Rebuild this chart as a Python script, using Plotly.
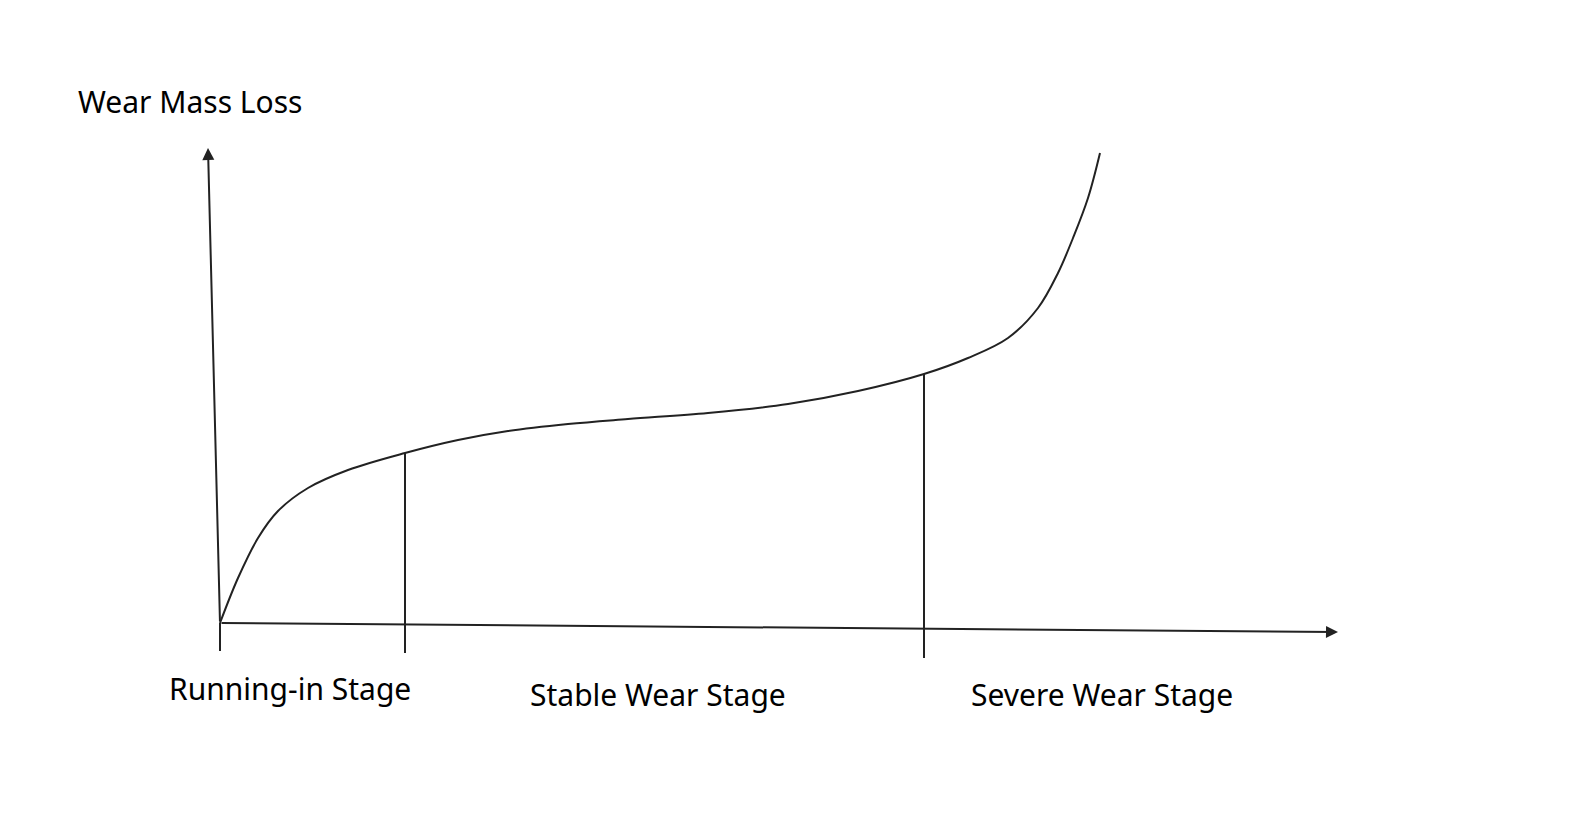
import plotly.graph_objects as go

# schematic data (time units, wear units)
time = [0, 1.8, 3.8, 5.8, 8.8, 12.8, 18.5, 23.8, 28.8, 34.8, 40.8, 48.8, 56.8, 63.8, 70.4, 74.8, 78.8, 81.8, 83.8, 85.3, 86.8, 88.0]
wear = [0, 4.5, 8.5, 11.2, 13.5, 15.3, 17.0, 18.3, 19.2, 19.9, 20.4, 21.0, 21.9, 23.2, 24.9, 26.5, 28.5, 31.5, 35.0, 38.5, 42.5, 47.0]
stage_bounds = [18.5, 70.4]
stage_tops = [17.0, 24.9]
stage_labels = ["Running-in Stage", "Stable Wear Stage", "Severe Wear Stage"]
stage_label_x = [7.0, 43.8, 88.2]
stage_label_y = [-6.5, -7.1, -7.1]

C = "#222"
fig = go.Figure()
fig.add_trace(go.Scatter(x=time, y=wear, mode="lines", line=dict(color=C, width=2, shape="spline"), hoverinfo="skip"))

# axes
fig.add_annotation(x=111.8, y=-0.9, ax=0, ay=0, xref="x", yref="y", axref="x", ayref="y",
                   showarrow=True, arrowhead=2, arrowsize=1.2, arrowwidth=2, arrowcolor=C, text="")
fig.add_annotation(x=-1.2, y=47.5, ax=0, ay=0, xref="x", yref="y", axref="x", ayref="y",
                   showarrow=True, arrowhead=2, arrowsize=1.2, arrowwidth=2, arrowcolor=C, text="")
fig.add_shape(type="line", x0=0, y0=0, x1=0, y1=-2.8, line=dict(color=C, width=2))
for xb, yt, yb in zip(stage_bounds, stage_tops, [-3.0, -3.5]):
    fig.add_shape(type="line", x0=xb, y0=yt, x1=xb, y1=yb, line=dict(color=C, width=2))

for t, x, y in zip(stage_labels, stage_label_x, stage_label_y):
    fig.add_annotation(x=x, y=y, text=t, showarrow=False, xref="x", yref="y",
                       font=dict(family="Noto Sans", size=30, color="#000"))
fig.add_annotation(x=-3.0, y=52.2, text="Wear Mass Loss", showarrow=False, xref="x", yref="y",
                   font=dict(family="Noto Sans", size=30, color="#000"))

fig.update_layout(width=1572, height=834, margin=dict(l=0, r=0, t=0, b=0),
                  plot_bgcolor="white", paper_bgcolor="white", showlegend=False,
                  xaxis=dict(range=[-21.2, 136.0], visible=False),
                  yaxis=dict(range=[-21.9, 61.5], visible=False))
fig.write_html("out.html")
